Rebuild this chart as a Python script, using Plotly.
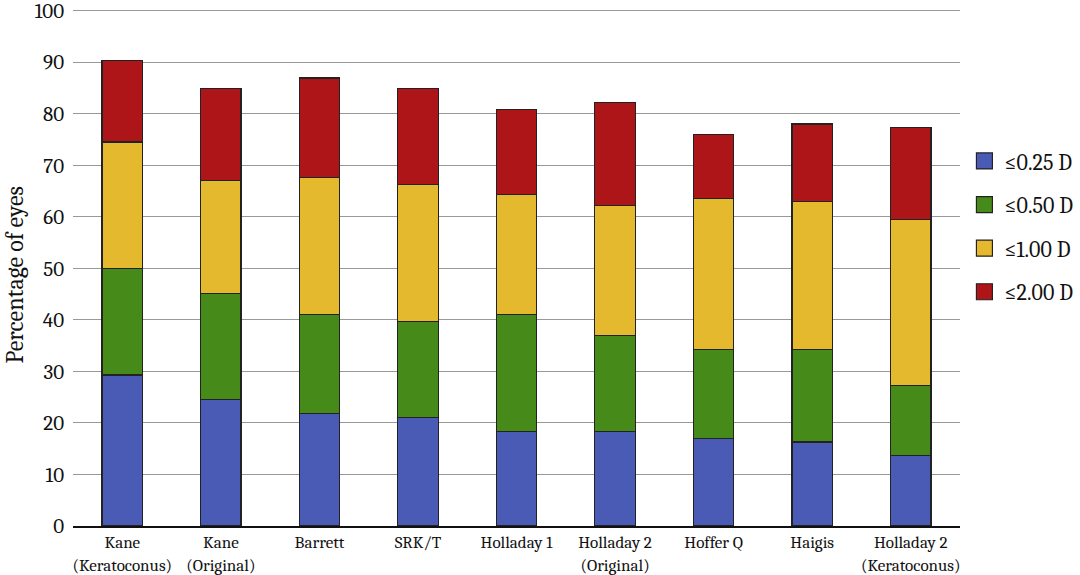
import plotly.graph_objects as go

categories = ["Kane<br>(Keratoconus)", "Kane<br>(Original)", "Barrett", "SRK/T", "Holladay 1",
              "Holladay 2<br>(Original)", "Hoffer Q", "Haigis", "Holladay 2<br>(Keratoconus)"]

# cumulative percentages
cum_025 = [29.3, 24.6, 21.8, 21.1, 18.4, 18.4, 17.0, 16.3, 13.7]
cum_050 = [50.0, 45.1, 41.0, 39.7, 41.0, 36.9, 34.2, 34.2, 27.3]
cum_100 = [74.5, 67.0, 67.6, 66.3, 64.3, 62.2, 63.6, 62.9, 59.5]
cum_200 = [90.3, 84.9, 86.9, 84.9, 80.8, 82.1, 76.0, 78.0, 77.3]

series_names = ["≤0.25 D", "≤0.50 D", "≤1.00 D", "≤2.00 D"]
colors = ["#4a5bb5", "#468a1a", "#e5b92e", "#ad1519"]

cums = [cum_025, cum_050, cum_100, cum_200]
segments = []
prev = [0] * len(categories)
for c in cums:
    segments.append([round(a - b, 2) for a, b in zip(c, prev)])
    prev = c

fig = go.Figure()
for name, seg, col in zip(series_names, segments, colors):
    fig.add_trace(go.Bar(
        x=categories, y=seg, name=name, legendgroup=name, showlegend=False,
        marker=dict(color=col, line=dict(color="#222222", width=1.2)),
    ))
# legend entries with larger square swatches
for name, col in zip(series_names, colors):
    fig.add_trace(go.Scatter(
        x=[None], y=[None], mode="markers", name=name, legendgroup=name,
        marker=dict(symbol="square", size=19, color=col, line=dict(color="#222222", width=1.2)),
    ))

serif = "Cambria, 'DejaVu Serif', 'Liberation Serif', serif"
fig.update_layout(
    barmode="stack",
    bargap=0.59,
    width=1080, height=575,
    margin=dict(l=73, r=120, t=9, b=49, autoexpand=False),
    plot_bgcolor="white", paper_bgcolor="white",
    font=dict(family=serif, color="#111111"),
    legend=dict(x=1.005, y=0.579, yanchor="middle", xanchor="left",
                traceorder="grouped", tracegroupgap=12, itemwidth=30,
                font=dict(size=22, family=serif)),
    yaxis=dict(range=[0, 100.3], tickvals=list(range(0, 101, 10)), showgrid=True,
               gridcolor="#999999", gridwidth=1.3,
               zeroline=False, tickfont=dict(size=21, family=serif),
               ticklabelstandoff=8, ticklabeloverflow="allow",
               ticks="", ticklen=0),
    xaxis=dict(showline=True, linecolor="#111111", linewidth=2, ticks="",
               tickfont=dict(size=17, family=serif)),
    annotations=[dict(text="Percentage of eyes", textangle=-90, xref="paper", yref="paper",
                      x=-0.065, y=0.487, xanchor="center", yanchor="middle", showarrow=False,
                      font=dict(size=24, family=serif, color="#111111"))],
)

fig.write_html("out.html")
